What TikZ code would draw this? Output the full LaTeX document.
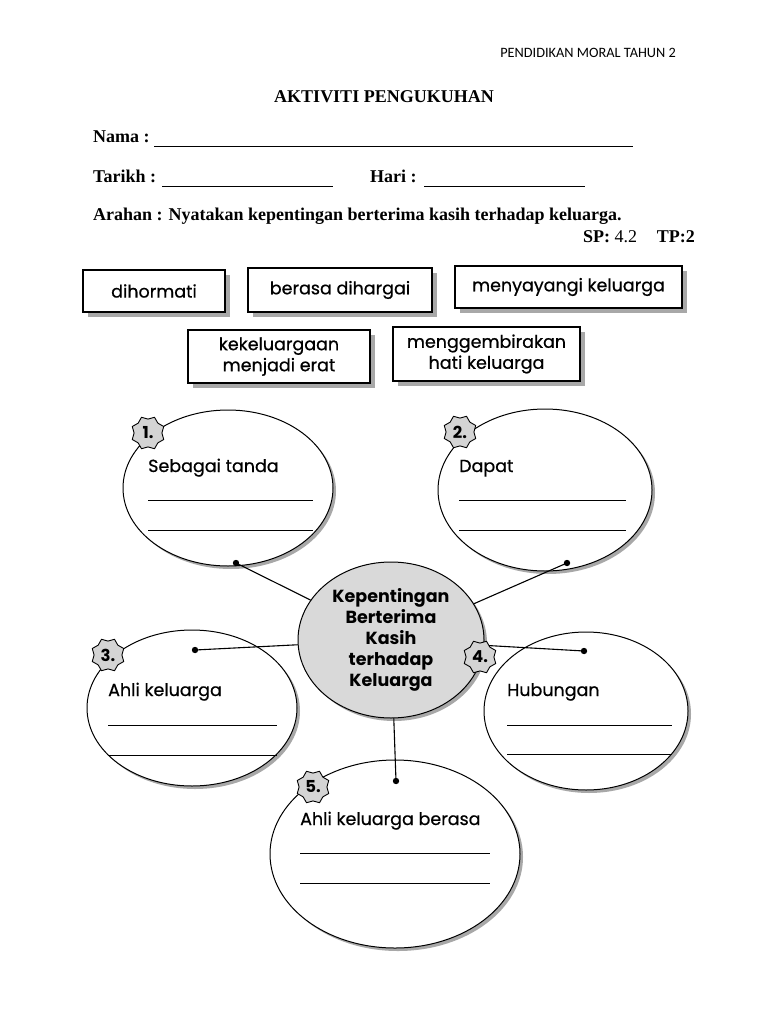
\documentclass[tikz,border=0pt]{standalone}
\usepackage{fontspec}
\setmainfont{Liberation Serif}
\newfontfamily\gothic[FakeBold=0.6]{Poppins}
\newfontfamily\gothicb{Poppins}
\newfontfamily\calib{Carlito}
\usetikzlibrary{shapes.geometric}
\definecolor{shadowgray}{HTML}{A8A8A8}
\definecolor{badgegray}{HTML}{D4D4D4}
\definecolor{ctrgray}{HTML}{D9D9D9}
\tikzset{
  word/.style={draw=black, line width=1.3pt, fill=white, inner sep=0pt, align=center, font=\gothic\fontsize{17.5}{20}\selectfont},
  bubble/.style={draw=black, line width=1pt, fill=white, ellipse, inner sep=0pt},
  wshadow/.style={fill=shadowgray},
  badge/.style={star, star points=8, star point ratio=1.22, shape border rotate=22.5, draw=black, line width=0.9pt, fill=badgegray, inner sep=0pt, minimum size=34, font=\gothicb\bfseries\fontsize{16.5}{16.5}\selectfont},
  prompt/.style={anchor=base west, inner sep=0pt, font=\gothic\fontsize{17.5}{20}\selectfont},
  blank/.style={line width=0.9pt},
  link/.style={line width=1.1pt},
  hdr/.style={anchor=base west, inner sep=0pt, font=\bfseries\fontsize{18}{21}\selectfont},
}
\begin{document}
\begin{tikzpicture}[x=1pt,y=-1pt]
\useasboundingbox (0,0) rectangle (768,1024);
\fill[white] (0,0) rectangle (768,1024);

% header
\node[anchor=base east, inner sep=0pt, font=\calib\fontsize{14.3}{16}\selectfont] (hd) at (676,58) {PENDIDIKAN MORAL TAHUN 2};
\node[inner sep=0pt, font=\bfseries\fontsize{18}{21}\selectfont, anchor=base] (title) at (384,103) {AKTIVITI PENGUKUHAN};
\node[hdr] (nama) at (93,143) {Nama :};
\node[hdr] (tarikh) at (93,183) {Tarikh :};
\node[hdr] (hari) at (370,183) {Hari :};
\node[hdr] (arahan) at (93,221) {Arahan : Nyatakan kepentingan berterima kasih terhadap keluarga.};
\node[anchor=base east, inner sep=0pt, font=\fontsize{18}{21}\selectfont] (sptp) at (695,242) {\textbf{SP:} 4.2\hspace{1.1em}\textbf{TP:2}};
\draw[blank] (154,146) -- (633,146);
\draw[blank] (162,186) -- (333,186);
\draw[blank] (424,186) -- (585,186);

% word boxes
\fill[wshadow] (88,275) rectangle (230,317);
\node[word, minimum width=142, minimum height=42] (b1) at (154,291) {dihormati};
\fill[wshadow] (253,273) rectangle (437,317);
\node[word, minimum width=184, minimum height=44] (b2) at (340,290) {berasa dihargai};
\fill[wshadow] (460,271) rectangle (687,313);
\node[word, minimum width=227, minimum height=42] (b3) at (568.5,287) {menyayangi keluarga};
\fill[wshadow] (193,335) rectangle (375,388);
\node[word, minimum width=182, minimum height=53, font=\gothic\fontsize{17.5}{21}\selectfont] (b4) at (279,356.5) {kekeluargaan\\menjadi erat};
\fill[wshadow] (398,332) rectangle (585,386);
\node[word, minimum width=187, minimum height=54, font=\gothic\fontsize{17.5}{21}\selectfont] (b5) at (486.5,354) {menggembirakan\\hati keluarga};

% shadows of bubbles
\fill[shadowgray] (231,491) ellipse (105 and 78);
\fill[shadowgray] (548,493) ellipse (107 and 81);
\fill[shadowgray] (195,711) ellipse (105 and 78);
\fill[shadowgray] (589,714) ellipse (102 and 79);
\fill[shadowgray] (398,857) ellipse (125 and 94);
\fill[shadowgray] (394,643) ellipse (93 and 78);

% bubbles
\node[bubble, minimum width=210, minimum height=156] (e1) at (228,488) {};
\node[bubble, minimum width=214, minimum height=162] (e2) at (545,490) {};
\node[bubble, minimum width=210, minimum height=156] (e3) at (192,708) {};
\node[bubble, minimum width=204, minimum height=158] (e4) at (586,711) {};
\node[bubble, minimum width=250, minimum height=188] (e5) at (395,854) {};

% dots
\coordinate (d1) at (236,563);
\coordinate (d2) at (567,563);
\coordinate (d3) at (195,650);
\coordinate (d4) at (584,651);
\coordinate (d5) at (396,781);

% center
\node[ellipse, draw=black, line width=1pt, fill=ctrgray, minimum width=186, minimum height=156, inner sep=0pt, align=center, font=\gothicb\bfseries\fontsize{17.5}{21}\selectfont] (ctr) at (391,640) {Kepentingan\\Berterima\\Kasih\\terhadap\\Keluarga};

\foreach \d in {d1,d2,d3,d4,d5} {
  \draw[link] (ctr) -- (\d);
  \fill (\d) circle (3.2);
}

% prompts and blanks
\node[prompt] (t1) at (148,472) {Sebagai tanda};
\draw[blank] (148,500) -- (313,500);
\draw[blank] (148,530) -- (313,530);
\node[prompt] (t2) at (459,472) {Dapat};
\draw[blank] (459,500) -- (626,500);
\draw[blank] (459,530) -- (626,530);
\node[prompt] (t3) at (108,696) {Ahli keluarga};
\draw[blank] (108,725) -- (277,725);
\draw[blank] (108,755) -- (277,755);
\node[prompt] (t4) at (507,696) {Hubungan};
\draw[blank] (507,725) -- (672,725);
\draw[blank] (507,754) -- (672,754);
\node[prompt] (t5) at (300,825) {Ahli keluarga berasa};
\draw[blank] (300,853) -- (490,853);
\draw[blank] (300,883) -- (490,883);

% badges
\node[badge] (n1) at (148,433) {1.};
\node[badge] (n2) at (460,432) {2.};
\node[badge] (n3) at (108,655) {3.};
\node[badge] (n4) at (480,657) {4.};
\node[badge] (n5) at (313,787) {5.};
\end{tikzpicture}
\end{document}
